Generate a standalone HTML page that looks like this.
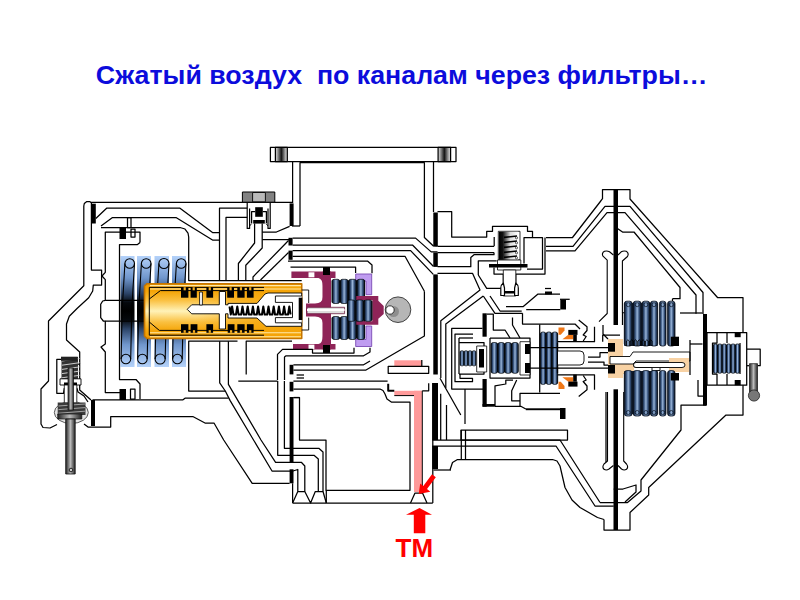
<!DOCTYPE html>
<html><head><meta charset="utf-8">
<style>
html,body{margin:0;padding:0;background:#fff;}
body{width:800px;height:600px;overflow:hidden;position:relative;font-family:"Liberation Sans",sans-serif;}
#title{position:absolute;left:1.6px;top:59.2px;width:800px;text-align:center;font-size:26.75px;font-weight:bold;color:#0c0cdc;white-space:pre;line-height:32px;transform:scaleY(0.955);transform-origin:50% 25px;}
#tm{position:absolute;left:395.5px;top:531.5px;font-size:26px;font-weight:bold;color:#ff0000;line-height:32px;}
svg{position:absolute;left:0;top:0;}
</style></head><body>
<div id="title"><span id="tt">Сжатый воздух  по каналам через фильтры…</span></div>
<div id="tm"><span id="tms">ТМ</span></div>
<svg width="800" height="600" viewBox="0 0 800 600" fill="none" stroke="#000" stroke-width="1.25" stroke-linejoin="round">
<defs>
<linearGradient id="gOr" x1="0" y1="0" x2="0" y2="1"><stop offset="0" stop-color="#f09a00"/><stop offset="0.14" stop-color="#f5a508"/><stop offset="0.3" stop-color="#fac040"/><stop offset="0.5" stop-color="#fff2b8"/><stop offset="0.7" stop-color="#fac040"/><stop offset="0.86" stop-color="#f5a508"/><stop offset="1" stop-color="#f09a00"/></linearGradient>
<linearGradient id="gOrR" x1="0" y1="0" x2="1" y2="0"><stop offset="0" stop-color="#f5a508" stop-opacity="0"/><stop offset="0.6" stop-color="#f5a508" stop-opacity="0.75"/><stop offset="1" stop-color="#f5a508" stop-opacity="0.9"/></linearGradient>
<linearGradient id="gSpU" x1="0" y1="0" x2="0" y2="1"><stop offset="0" stop-color="#b4d2fa"/><stop offset="0.4" stop-color="#7096cc"/><stop offset="0.68" stop-color="#2c4468"/><stop offset="0.85" stop-color="#05080c"/><stop offset="1" stop-color="#000"/></linearGradient>
<linearGradient id="gSpD" x1="0" y1="1" x2="0" y2="0"><stop offset="0" stop-color="#b4d2fa"/><stop offset="0.4" stop-color="#7096cc"/><stop offset="0.68" stop-color="#2c4468"/><stop offset="0.85" stop-color="#05080c"/><stop offset="1" stop-color="#000"/></linearGradient>
<linearGradient id="gBolt" x1="0" y1="0" x2="1" y2="0"><stop offset="0" stop-color="#e8e8e8"/><stop offset="0.5" stop-color="#141414"/><stop offset="1" stop-color="#f0f0f0"/></linearGradient>
<linearGradient id="gRod" x1="0" y1="0" x2="1" y2="0"><stop offset="0" stop-color="#222"/><stop offset="0.5" stop-color="#bbb"/><stop offset="1" stop-color="#222"/></linearGradient>
<linearGradient id="gCoil" x1="0" y1="0" x2="1" y2="0"><stop offset="0" stop-color="#0a1018"/><stop offset="0.25" stop-color="#34507a"/><stop offset="0.5" stop-color="#98b4d8"/><stop offset="0.75" stop-color="#34507a"/><stop offset="1" stop-color="#0a1018"/></linearGradient>
<linearGradient id="gVs" x1="0" y1="0" x2="1" y2="0"><stop offset="0" stop-color="#000"/><stop offset="0.2" stop-color="#111"/><stop offset="0.6" stop-color="#ddd"/><stop offset="1" stop-color="#fff"/></linearGradient>
</defs>

<rect x="120.5" y="256" width="14.0" height="55" fill="url(#gSpU)" stroke="none"/>
<rect x="120.5" y="311" width="14.0" height="56" fill="url(#gSpD)" stroke="none"/>
<rect x="137" y="256" width="14" height="55" fill="url(#gSpU)" stroke="none"/>
<rect x="137" y="311" width="14" height="56" fill="url(#gSpD)" stroke="none"/>
<rect x="154.5" y="256" width="14.5" height="55" fill="url(#gSpU)" stroke="none"/>
<rect x="154.5" y="311" width="14.5" height="56" fill="url(#gSpD)" stroke="none"/>
<rect x="172" y="256" width="14" height="55" fill="url(#gSpU)" stroke="none"/>
<rect x="172" y="311" width="14" height="56" fill="url(#gSpD)" stroke="none"/>
<path d="M122.10000000000001,311 L124.89999999999999,263.5 M134.5,263.5 L131.70000000000002,311" stroke="#000" stroke-width="1.1"/>
<path d="M122.10000000000001,311 L121.10000000000001,359 M130.70000000000002,359 L131.70000000000002,311" stroke="#000" stroke-width="1.1"/>
<circle cx="129.7" cy="263.5" r="4.8" stroke-width="1.1"/>
<circle cx="125.9" cy="359" r="4.8" stroke-width="1.1"/>
<path d="M138.6,311 L141.39999999999998,263.5 M151.0,263.5 L148.20000000000002,311" stroke="#000" stroke-width="1.1"/>
<path d="M138.6,311 L137.6,359 M147.20000000000002,359 L148.20000000000002,311" stroke="#000" stroke-width="1.1"/>
<circle cx="146.2" cy="263.5" r="4.8" stroke-width="1.1"/>
<circle cx="142.4" cy="359" r="4.8" stroke-width="1.1"/>
<path d="M156.1,311 L158.89999999999998,263.5 M169.0,263.5 L166.20000000000002,311" stroke="#000" stroke-width="1.1"/>
<path d="M156.1,311 L155.1,359 M165.20000000000002,359 L166.20000000000002,311" stroke="#000" stroke-width="1.1"/>
<circle cx="163.95" cy="263.5" r="5.05" stroke-width="1.1"/>
<circle cx="160.15" cy="359" r="5.05" stroke-width="1.1"/>
<path d="M173.6,311 L176.39999999999998,263.5 M186.0,263.5 L183.20000000000002,311" stroke="#000" stroke-width="1.1"/>
<path d="M173.6,311 L172.6,359 M182.20000000000002,359 L183.20000000000002,311" stroke="#000" stroke-width="1.1"/>
<circle cx="181.2" cy="263.5" r="4.8" stroke-width="1.1"/>
<circle cx="177.4" cy="359" r="4.8" stroke-width="1.1"/>
<polyline points="292,202.4 91,202.4 90,201.7 86.5,201.7 84.3,203.5 83.8,206 83.8,285.7 48.5,321 48.5,381 41,389 41,424 43,427.5 50,428 57,424.5"/>
<polyline points="91.4,202.4 91.4,270 101.6,270 101.6,285 93.3,285 92.7,291 88.7,297.7 77.3,308.3 69.3,316.3 66.5,324 66.5,340 79.7,352 79.7,364"/>
<rect x="91.8" y="203.7" width="4.0" height="19.8" fill="#000" stroke="none"/>
<polyline points="95.8,218.5 106.6,208.2 180,208.2 212.5,232.5 220,232.5"/>
<polyline points="101,226 112.5,217.5 176,217.5 212.5,240 220,240"/>
<polyline points="101,227.5 180,227.5 185,229 188,233 188.7,237 188.7,280.5 301.7,280.5"/>
<rect x="127.5" y="217.5" width="3.5" height="10.0"/>
<rect x="131" y="229" width="4" height="8"/>
<rect x="119.5" y="227.5" width="6.5" height="11.5" fill="#000" stroke="none"/>
<polyline points="140,242.5 140,232 105.3,232 105.3,272.3 102,276 105.3,279.7 105.3,300.3 102.7,301 100.7,304.3 100.7,317.7 103.3,321 105.3,321 105.3,344 101,347 105.3,352 105.3,392.5 120,392.5"/>
<polyline points="140,242.5 137.5,244.5 119.5,244.5 119.5,379.5 136,379.5 140,384 140,399"/>
<polyline points="105.3,300.3 145,300.3"/>
<polyline points="105.3,321 145,321"/>
<rect x="119.5" y="389" width="6.5" height="11" fill="#000" stroke="none"/>
<rect x="130.5" y="389" width="4.5" height="10"/>
<polyline points="92.5,399.8 183,399.8 185,398.2 228.5,398.2"/>
<rect x="91" y="400" width="4" height="26" fill="#000" stroke="none"/>
<polyline points="84,424 88,427 110.7,427 110.7,416.5 192.8,416.5 205,423 214,423 223.7,440 252.2,483.3 289.6,483.3"/>
<polyline points="237.5,341.2 188.7,341.2 188.7,391 225.3,391"/>
<polyline points="246.2,374.4 246.2,341.2 292,341.2"/>
<polygon points="147,283.7 301.7,283.7 301.7,338.5 147,338.5 144.5,336 144.5,286" fill="url(#gOr)" stroke="#c47400" stroke-width="1.6"/>
<rect x="196" y="285" width="105" height="52.5" fill="url(#gOrR)" stroke="none"/>
<polyline points="150,285.6 301,285.6" stroke="#ffe9a8" stroke-width="1.1"/>
<polyline points="150,289 301,289" stroke="#ffe9a8" stroke-width="1.1"/>
<polyline points="150,332.8 301,332.8" stroke="#ffe9a8" stroke-width="1.1"/>
<polyline points="150,336.8 301,336.8" stroke="#ffe9a8" stroke-width="1.1"/>
<polyline points="264,287.4 149.3,287.4 149.3,335.2 264,335.2" stroke-width="1"/>
<polyline points="264,290.6 160.4,290.6 149.3,299" stroke-width="1"/>
<polyline points="149.3,322 159.3,330.4 264,330.4" stroke-width="1"/>
<polygon points="187.2,309.3 191.7,304.8 219.3,304.8 219.3,291.5 225.5,291.5 225.5,304.8 228,304.8 228,303.4 257,303.4 265,294 268,293 301.7,293 301.7,326.3 266,326.3 257,318 228,318 228,313.8 225.5,313.8 225.5,329 219.3,329 219.3,313.8 191.7,313.8" fill="#fff" stroke="#000" stroke-width="0.9"/>
<rect x="199.6" y="292" width="2.8" height="13" fill="#fff" stroke-width="0.8"/>
<path d="M301.7,296 H275.4 V302.4 H292.5 V317.6 H275.4 V322.8 H301.7" fill="#fff" stroke-width="0.9"/>
<rect x="298.7" y="297.7" width="3.6" height="22.3" fill="#000" stroke="none"/>
<path d="M301.7,290 H308.7 V303 M308.7,317.6 V330 H301.7" fill="none" stroke-width="0.9"/>
<rect x="181" y="287.3" width="7.4" height="10.4" fill="#000" stroke="none"/>
<rect x="183.6" y="287.3" width="2.2" height="3.0" fill="#f8b020" stroke="none"/>
<rect x="190.6" y="287.3" width="6.2" height="10.4" fill="#000" stroke="none"/>
<rect x="192.6" y="287.3" width="2.2" height="3.0" fill="#f8b020" stroke="none"/>
<rect x="206.4" y="287.3" width="6.7" height="10.4" fill="#000" stroke="none"/>
<rect x="208.65" y="287.3" width="2.2" height="3.0" fill="#f8b020" stroke="none"/>
<rect x="227.2" y="287.3" width="6.8" height="10.4" fill="#000" stroke="none"/>
<rect x="229.5" y="287.3" width="2.2" height="3.0" fill="#f8b020" stroke="none"/>
<rect x="237.3" y="287.3" width="7.3" height="10.4" fill="#000" stroke="none"/>
<rect x="239.85" y="287.3" width="2.2" height="3.0" fill="#f8b020" stroke="none"/>
<rect x="246.9" y="287.3" width="6.7" height="10.4" fill="#000" stroke="none"/>
<rect x="249.15" y="287.3" width="2.2" height="3.0" fill="#f8b020" stroke="none"/>
<rect x="181" y="324.2" width="7.4" height="8.6" fill="#000" stroke="none"/>
<rect x="183.6" y="330.2" width="2.2" height="2.6" fill="#f8b020" stroke="none"/>
<rect x="190.6" y="324.2" width="6.8" height="8.6" fill="#000" stroke="none"/>
<rect x="192.9" y="330.2" width="2.2" height="2.6" fill="#f8b020" stroke="none"/>
<rect x="206.4" y="324.2" width="6.7" height="8.6" fill="#000" stroke="none"/>
<rect x="208.65" y="330.2" width="2.2" height="2.6" fill="#f8b020" stroke="none"/>
<rect x="227.7" y="324.2" width="6.8" height="8.6" fill="#000" stroke="none"/>
<rect x="230.0" y="330.2" width="2.2" height="2.6" fill="#f8b020" stroke="none"/>
<rect x="237.3" y="324.2" width="7.3" height="8.6" fill="#000" stroke="none"/>
<rect x="239.85" y="330.2" width="2.2" height="2.6" fill="#f8b020" stroke="none"/>
<rect x="246.9" y="324.2" width="6.7" height="8.6" fill="#000" stroke="none"/>
<rect x="249.15" y="330.2" width="2.2" height="2.6" fill="#f8b020" stroke="none"/>
<path d="M229.5,306.5 L230.8,314.5 L232.1,306.5 L233.4,314.5 L236.0,314.5 L237.29999999999998,306.5 L238.6,314.5 L241.2,314.5 L242.49999999999997,306.5 L243.79999999999998,314.5 L246.39999999999998,314.5 L247.69999999999996,306.5 L248.99999999999997,314.5 L251.59999999999997,314.5 L252.89999999999995,306.5 L254.19999999999996,314.5 L256.79999999999995,314.5 L258.09999999999997,306.5 L259.3999999999999,314.5 L261.99999999999994,314.5 L263.29999999999995,306.5 L264.5999999999999,314.5 L267.19999999999993,314.5 L268.49999999999994,306.5 L269.7999999999999,314.5 L272.3999999999999,314.5 L273.69999999999993,306.5 L274.9999999999999,314.5 L277.5999999999999,314.5 L278.8999999999999,306.5 L280.1999999999999,314.5 L282.7999999999999,314.5 L284.0999999999999,306.5 L285.39999999999986,314.5 L287.9999999999999,314.5 L289.2999999999999,306.5 L290.59999999999985,314.5" stroke="#000" stroke-width="2"/>
<ellipse cx="71.3" cy="412.5" rx="17" ry="11" fill="#e4e4e4" stroke="#333" stroke-width="0.8"/>
<polyline points="78,364 79.7,364 79.7,390 91,400"/>
<polyline points="61,359.3 56.8,359.3 56.8,393.3 63.5,393.3 64.3,388"/>
<polyline points="76.8,388 78,392 84,396 88,402"/>
<rect x="61.5" y="357" width="16.5" height="22" fill="#333" stroke="none"/>
<polyline points="62,361.0 79.5,358.5" stroke="#ddd" stroke-width="0.9"/>
<polyline points="62,365.2 79.5,362.7" stroke="#ddd" stroke-width="0.9"/>
<polyline points="62,369.4 79.5,366.9" stroke="#ddd" stroke-width="0.9"/>
<polyline points="62,373.6 79.5,371.1" stroke="#ddd" stroke-width="0.9"/>
<polyline points="62,377.8 79.5,375.3" stroke="#ddd" stroke-width="0.9"/>
<rect x="61" y="356.7" width="16.7" height="4.1" fill="#222" stroke="none"/>
<rect x="60" y="378.8" width="21" height="6.2" fill="#fff" stroke-width="0.9"/>
<rect x="64" y="382.5" width="13" height="2.5" fill="#000" stroke="none"/>
<rect x="64.3" y="385" width="12.5" height="18" fill="#fff" stroke-width="0.8"/>
<rect x="57.7" y="402.5" width="27.8" height="12.5" fill="#3a3a3a" stroke="none"/>
<polyline points="58.5,406.0 85,404.0" stroke="#bbb" stroke-width="0.8"/>
<polyline points="58.5,409.6 85,407.6" stroke="#bbb" stroke-width="0.8"/>
<polyline points="58.5,413.2 85,411.2" stroke="#bbb" stroke-width="0.8"/>
<rect x="68" y="368" width="5.5" height="42" fill="url(#gRod)" stroke="#111" stroke-width="0.7"/>
<rect x="57.7" y="414" width="24.1" height="5" fill="url(#gRod)" stroke="#111" stroke-width="0.7"/>
<rect x="65.7" y="419" width="9.5" height="55" fill="url(#gRod)" stroke="#111" stroke-width="0.8"/>
<circle cx="71" cy="470" r="1.8" fill="#ccc" stroke-width="0.8"/>
<rect x="270.4" y="147.4" width="185.6" height="14.2" fill="#fff"/>
<rect x="275.4" y="147.4" width="11.9" height="14.2" fill="url(#gBolt)"/>
<rect x="438.1" y="147.4" width="12.5" height="14.2" fill="url(#gBolt)"/>
<polyline points="292.6,161.5 292.6,203"/>
<polyline points="300,226 300,162.5 424.4,162.5 424.4,237.5 433.1,245.8 437.5,246.2"/>
<polyline points="433.5,161.5 433.5,212"/>
<polyline points="292,226 300,226"/>
<rect x="289.6" y="203.4" width="4.0" height="22.6" fill="#000" stroke="none"/>
<rect x="242.4" y="192" width="32.4" height="10.2" fill="#828282" stroke="#000" stroke-width="1"/>
<rect x="252.6" y="192.5" width="12.8" height="9.3" fill="#b9b9b9" stroke="#000" stroke-width="0.9"/>
<polyline points="247.2,202.4 247.2,228.4 249.6,228.4 249.6,208.4" stroke-width="1.2"/>
<polyline points="270.2,202.4 270.2,228.4 268,228.4 268,208.4" stroke-width="1.2"/>
<polyline points="249.6,226 251.6,223.6" stroke-width="0.9"/>
<polyline points="268,226 266,223.6" stroke-width="0.9"/>
<polyline points="255.2,211.6 251.6,211.6 251.6,223.2"/>
<polyline points="262.8,211.6 266.4,211.6 266.4,223.2"/>
<rect x="253.2" y="220" width="11.6" height="3.6" fill="#000" stroke="none"/>
<rect x="255.2" y="207.2" width="7.6" height="9.6" fill="#000" stroke="none"/>
<polyline points="254.6,223.6 254.6,243 238.4,263.5 238.4,280.5"/>
<polyline points="262.2,223.6 262.2,248 245.8,265.3 245.8,280.5"/>
<polyline points="219.5,280.5 219.5,208.2 247.2,208.2"/>
<polyline points="226,280.5 226,217.4 247.2,217.4"/>
<polyline points="262.2,232 276.4,232 289.6,226.4"/>
<polyline points="262.3,239.6 289,239.6"/>
<rect x="288.5" y="237.8" width="4.1" height="7.7" fill="#000" stroke="none"/>
<rect x="288.5" y="250.6" width="4.1" height="9.2" fill="#000" stroke="none"/>
<polyline points="288.5,240.5 253,277 253,281"/>
<polyline points="288.5,252.5 260.5,280"/>
<polyline points="292.6,238.1 415.6,238.1 431.2,251.9 437.5,251.9"/>
<polyline points="292.6,245 412.5,245 433.3,266.2"/>
<polyline points="292.6,250.6 410.6,250.6 433.3,274.4"/>
<polyline points="292.6,256.3 405,256.3 424.4,291.3"/>
<polyline points="288,261 367.5,261 372,265 372,273.3"/>
<polyline points="290.5,267 355.6,267 355.6,273"/>
<polyline points="424.4,291.3 424.4,336 366,370 293.4,370"/>
<polyline points="293.4,364.8 363.6,364.8 370,361"/>
<rect x="291.4" y="271.5" width="44.1" height="6.5" fill="#8f2458" stroke="none"/>
<rect x="293" y="344" width="42.5" height="5.5" fill="#8f2458" stroke="none"/>
<rect x="322.6" y="271.5" width="8.4" height="78.0" fill="#8f2458" stroke="none"/>
<path d="M318.5,278 Q322.6,279 322.8,286 V297 Q322.6,303.4 315,303.6 H306 V316.5 H315 Q322.6,316.7 322.8,323 V336 Q322.6,343 318.5,344 H324 V278 Z" fill="#8f2458" stroke="none"/>
<rect x="308.5" y="272.3" width="5.9" height="5.0" fill="#fff" stroke="none"/>
<rect x="308.5" y="344.6" width="5.9" height="4.4" fill="#fff" stroke="none"/>
<rect x="323" y="267" width="7" height="8" fill="#000" stroke="none"/>
<rect x="323" y="345" width="7" height="8" fill="#000" stroke="none"/>
<rect x="307" y="307.3" width="37.6" height="6.4" fill="#ddd" stroke="#6a1a40" stroke-width="0.8"/>
<rect x="307" y="309" width="37.6" height="2" fill="#fff" stroke="none"/>
<path d="M355.7,274 H371.7 V294.7 H366 V281 H355.7 Z" fill="#bf9cf0" stroke="#7a4cb4" stroke-width="0.9"/>
<path d="M355.7,346.5 H371.7 V326 H366 V339.5 H355.7 Z" fill="#bf9cf0" stroke="#7a4cb4" stroke-width="0.9"/>
<rect x="331.7" y="280.3" width="33.3" height="22.2" fill="#0c1118" stroke="none"/>
<rect x="332.1" y="279.3" width="7.52" height="24.2" fill="url(#gCoil)" stroke="#05080c" stroke-width="0.7" rx="2"/>
<rect x="340.42" y="279.3" width="7.53" height="24.2" fill="url(#gCoil)" stroke="#05080c" stroke-width="0.7" rx="2"/>
<rect x="348.75" y="279.3" width="7.53" height="24.2" fill="url(#gCoil)" stroke="#05080c" stroke-width="0.7" rx="2"/>
<rect x="357.07" y="279.3" width="7.53" height="24.2" fill="url(#gCoil)" stroke="#05080c" stroke-width="0.7" rx="2"/>
<rect x="331.7" y="317.5" width="33.3" height="21.0" fill="#0c1118" stroke="none"/>
<rect x="332.1" y="316.5" width="7.52" height="23.0" fill="url(#gCoil)" stroke="#05080c" stroke-width="0.7" rx="2"/>
<rect x="340.42" y="316.5" width="7.53" height="23.0" fill="url(#gCoil)" stroke="#05080c" stroke-width="0.7" rx="2"/>
<rect x="348.75" y="316.5" width="7.53" height="23.0" fill="url(#gCoil)" stroke="#05080c" stroke-width="0.7" rx="2"/>
<rect x="357.07" y="316.5" width="7.53" height="23.0" fill="url(#gCoil)" stroke="#05080c" stroke-width="0.7" rx="2"/>
<path d="M356.3,296 H378.3 V300.7 L383.7,306 V314 L378.3,318.7 V324.7 H356.3 V321.3 H372.3 V300 H356.3 Z" fill="#8f2458" stroke="none"/>
<rect x="347" y="301" width="25.3" height="19.3" fill="#0c1118" stroke="none"/>
<rect x="347.4" y="300" width="7.63" height="21.3" fill="url(#gCoil)" stroke="#05080c" stroke-width="0.7" rx="2"/>
<rect x="355.83" y="300" width="7.64" height="21.3" fill="url(#gCoil)" stroke="#05080c" stroke-width="0.7" rx="2"/>
<rect x="364.27" y="300" width="7.63" height="21.3" fill="url(#gCoil)" stroke="#05080c" stroke-width="0.7" rx="2"/>
<circle cx="398" cy="309.7" r="12.8" fill="#b6b6b6" stroke="#333" stroke-width="0.9"/>
<circle cx="393.5" cy="311.5" r="5.5" fill="#8e8e8e" stroke="none"/>
<circle cx="390" cy="310" r="4.2" fill="#fff" stroke="#222" stroke-width="0.9"/>
<polyline points="277.5,380 277.5,354.4 282.5,349.4 312.5,349.4 312.5,353 354,353 354,347.7"/>
<polyline points="284.5,380 284.5,357 286,355.8 363.6,355.8 370,352 370,347.7"/>
<rect x="289.6" y="364.8" width="3.8" height="9.6" fill="#000" stroke="none"/>
<rect x="289.6" y="381.8" width="3.8" height="9.6" fill="#000" stroke="none"/>
<polyline points="238.3,381 277.5,381"/>
<polyline points="293.4,381 387.6,381"/>
<polyline points="296.6,375 304,375"/>
<polyline points="296.6,378 304,378"/>
<rect x="394.3" y="360.3" width="27.2" height="6.0" fill="#ff9a9a" stroke="none"/>
<polyline points="421.8,360 421.8,366.3"/>
<rect x="388.2" y="366.3" width="40.5" height="7.0" fill="#fff"/>
<rect x="394.3" y="390.8" width="27.7" height="4.7" fill="#ff9a9a" stroke="none"/>
<rect x="414" y="390.8" width="8" height="101.2" fill="#ff9a9a" stroke="none"/>
<polyline points="422.3,390.8 422.3,492.5" stroke-width="1"/>
<path d="M388.2,383.8 V390.8 H394.3" stroke-width="2"/>
<polyline points="394.3,395.6 414,395.6" stroke-width="1"/>
<polyline points="422.3,390.8 428.7,390.8 428.7,383.3"/>
<polyline points="293.4,389 380,389 383,390.5 385,394 387,399 391.3,402 410,402 410,490.3 326,490.3 326,440 299.5,440 299.5,397.5 293.4,397.5"/>
<polyline points="292.5,503.2 432.8,503.2"/>
<polyline points="432.8,383 432.8,503"/>
<polyline points="410.5,503 415,493 422.5,493 427,503"/>
<polygon points="419.5,508 432,514.7 425.3,514.7 425.3,533.3 413.8,533.3 413.8,514.7 406,514.7" fill="#f00" stroke="none"/>
<polygon points="418.7,494 420.2,483.5 423.3,486 432,474.2 435.8,477.2 427,489 430.3,491.7" fill="#f00" stroke="none"/>
<polyline points="277.7,381 277.7,455.3 314,455.3 318.3,459 318.3,491.5"/>
<polyline points="284.4,381 284.4,448.3 318.8,448.3 323,452 323,491.5"/>
<rect x="289.6" y="397" width="3.9" height="65.3" fill="#000" stroke="none"/>
<rect x="289.6" y="469.3" width="3.9" height="14.0" fill="#000" stroke="none"/>
<polyline points="293.5,397.5 299.5,397.5"/>
<polyline points="228.4,341.2 228.4,384.4 261,440 275.6,462.3 301.3,462.3 304.8,466 304.8,491.5"/>
<polyline points="219.7,341.2 219.7,382.8 225.3,391 230,400.4 272,471 293,471 297.8,469.5 297.8,491.5"/>
<polyline points="292.6,483.3 292.6,503"/>
<polyline points="292.6,503 297.8,491.5 304.8,491.5 310.6,503 315.3,491.5 323,491.5 326.3,503"/>
<polyline points="326.3,490.3 326.3,503"/>
<rect x="433.3" y="212.5" width="4.5" height="33.7" fill="#000" stroke="none"/>
<rect x="433.3" y="252.5" width="4.5" height="14.4" fill="#000" stroke="none"/>
<rect x="433.3" y="274.4" width="4.5" height="100.1" fill="#000" stroke="none"/>
<rect x="432.3" y="383" width="5.7" height="57" fill="#000" stroke="none"/>
<rect x="432.3" y="446" width="5.7" height="23" fill="#000" stroke="none"/>
<polyline points="437.5,211.7 451.7,211.7 451.7,237 486.7,237 486.7,231.3 492.5,231.3 492.5,226.3 527.5,226.3 527.5,231.3 532.5,231.3 532.5,237.5 542.5,237.5 542.5,269 527,269"/>
<polyline points="524,263.5 524,237.5 532.5,237.5"/>
<polyline points="437.5,246.3 494,246.3"/>
<polyline points="437.5,252.5 494,252.5"/>
<polyline points="494.2,237 494.2,246.3"/>
<polyline points="494,252.5 494,254.7 474,254.7 470.8,257.5 470.8,266.7 437.5,266.7"/>
<polyline points="437.5,273.3 472.5,273.3 480,290 440.8,320.8 440.8,378"/>
<polyline points="478.3,275 478.3,260.8 496.7,260.8"/>
<polyline points="478.3,275 486.7,288.3 503,288.3"/>
<polyline points="483.3,296 445.8,324 445.8,388"/>
<rect x="498.3" y="231.3" width="21.7" height="28.7" fill="#fff" stroke-width="0.8"/>
<rect x="499" y="231.8" width="19" height="28" fill="url(#gVs)" stroke="none"/>
<polyline points="504,237.4 517,236" stroke="#000" stroke-width="1.6"/>
<circle cx="516.5" cy="237.8" r="1.1" fill="#fff" stroke="#000" stroke-width="0.6"/>
<polyline points="504,242.4 517,241" stroke="#000" stroke-width="1.6"/>
<circle cx="516.5" cy="242.8" r="1.1" fill="#fff" stroke="#000" stroke-width="0.6"/>
<polyline points="504,247.4 517,246" stroke="#000" stroke-width="1.6"/>
<circle cx="516.5" cy="247.8" r="1.1" fill="#fff" stroke="#000" stroke-width="0.6"/>
<polyline points="504,252.4 517,251" stroke="#000" stroke-width="1.6"/>
<circle cx="516.5" cy="252.8" r="1.1" fill="#fff" stroke="#000" stroke-width="0.6"/>
<polyline points="504,257.4 517,256" stroke="#000" stroke-width="1.6"/>
<circle cx="516.5" cy="257.8" r="1.1" fill="#fff" stroke="#000" stroke-width="0.6"/>
<rect x="497.5" y="260" width="23.3" height="10" fill="#fff" stroke-width="0.8"/>
<rect x="489" y="264" width="38.5" height="3.5" fill="#000" stroke="none"/>
<polyline points="494,267.5 494,274 503.3,274 503.3,283.3"/>
<polyline points="515.8,283.3 515.8,274 545,274 545,237.5"/>
<rect x="503.3" y="270" width="12.5" height="26" fill="#fff" stroke-width="0.8"/>
<path d="M503.3,283 Q500.5,285 500.8,289 V295.5 H504.5 V288 Z M515.8,283 Q518.6,285 518.3,289 V295.5 H514.6 V288 Z" fill="#fff" stroke-width="1.2"/>
<rect x="504.5" y="291" width="10.1" height="2.5" fill="#000" stroke="none"/>
<polyline points="546,237.5 572.5,237.5 600,202 602.5,198.7 602.5,189.5 630,189.5 630,199 717.5,297.5 743,297.5 743,332.7"/>
<polyline points="746.7,349.2 760.2,349.2 760.2,365.7 757.5,365.7"/>
<polyline points="749,365.7 746.7,365.7"/>
<polyline points="546,246.3 573,246.3 605,206.3 630,206.3 703,292.5 703,314"/>
<polyline points="546,250.8 575,250.8 607,212.7 625,212.7 696,295 696,313.7"/>
<polyline points="616,227.5 622.5,232 634,232 680,287.5 680,298.7 672.5,298.7"/>
<rect x="613.5" y="190" width="4.5" height="135" fill="#000" stroke="none"/>
<rect x="613.5" y="389.3" width="4.5" height="140.7" fill="#000" stroke="none"/>
<path d="M613.4,255 L609.5,251.8 Q607,250.4 604.5,251.3 Q601.3,253 603,256.2 L607.2,260.2 V313.5 L599,321.7" stroke-width="1.1"/>
<path d="M618,255 L621.2,251.8 Q623.7,250.4 626.2,251.3 Q629.3,253 627.5,256.5 L622.4,261 V312.7 H624.5" stroke-width="1.1"/>
<polyline points="622.5,312.7 622.5,325"/>
<rect x="703" y="314" width="4" height="91.6" fill="#000" stroke="none"/>
<rect x="707" y="332.7" width="39.7" height="52.5" fill="#fff"/>
<polyline points="717,332.5 717,343 712.5,343 712.5,374 717,374 717,385"/>
<polyline points="727,332.5 727,343"/>
<polyline points="727,374 727,385"/>
<polyline points="740,343 740,374"/>
<rect x="734.7" y="332.7" width="6.0" height="4.5" fill="#000" stroke="none"/>
<rect x="734.7" y="380" width="6.0" height="5.2" fill="#000" stroke="none"/>
<rect x="713.3" y="345" width="26.4" height="27.2" fill="#0c1118" stroke="none"/>
<rect x="713.3" y="344" width="4.3" height="29.2" fill="url(#gCoil)" stroke="#05080c" stroke-width="0.7" rx="1.6"/>
<rect x="717.7" y="344" width="4.3" height="29.2" fill="url(#gCoil)" stroke="#05080c" stroke-width="0.7" rx="1.6"/>
<rect x="722.1" y="344" width="4.3" height="29.2" fill="url(#gCoil)" stroke="#05080c" stroke-width="0.7" rx="1.6"/>
<rect x="726.5" y="344" width="4.3" height="29.2" fill="url(#gCoil)" stroke="#05080c" stroke-width="0.7" rx="1.6"/>
<rect x="730.9" y="344" width="4.3" height="29.2" fill="url(#gCoil)" stroke="#05080c" stroke-width="0.7" rx="1.6"/>
<rect x="735.3" y="344" width="4.4" height="29.2" fill="url(#gCoil)" stroke="#05080c" stroke-width="0.7" rx="1.6"/>
<rect x="749.5" y="363.7" width="8.0" height="28.3" fill="url(#gRod)" stroke="#222" stroke-width="0.8"/>
<circle cx="754" cy="395.5" r="5.6" fill="#777" stroke="#222" stroke-width="0.8"/>
<polyline points="743,385.2 743,415 726,415 648.7,487.5 648.7,495 630,512.5 630,530 604,530 604,519.5"/>
<polyline points="706,405 681,405 681,430 641,480 641,491 627.5,502.5 600,502.5"/>
<polyline points="698,380 698,396 706,396"/>
<polyline points="450,470 452.5,462.5 457.5,459.5 552.5,459.5 557,461 560,466 565,487.5 572,500 580,507.5 597.5,517.5 604,519.5"/>
<polyline points="433.5,470 451,470"/>
<polyline points="432.5,440 560,440 600,502.5"/>
<polyline points="432.5,446 556,446 595,506 613.7,506"/>
<rect x="461" y="430" width="106.5" height="10"/>
<polyline points="465.5,430 465.5,459.5"/>
<polyline points="461.3,430 461.3,459.5"/>
<polyline points="606,392 606,462"/>
<path d="M607.5,392 V461 L604,464 Q601.8,467 604,469.3 Q606.5,470.8 609,469 L613.4,465.5" stroke-width="1.1"/>
<path d="M623.7,392 V461 L626.5,464 Q628.8,467 626.5,469.3 Q624,470.8 621.5,469 L618,465.5" stroke-width="1.1"/>
<polyline points="613.7,489 623,489 636,485 636,492 625,502"/>
<polyline points="483.3,389 451.7,389 451.7,328.3 482.5,328.3"/>
<polyline points="460,374 460,378.3 472.5,378.3 472.5,381.7 455,381.7 455,334 473,334"/>
<rect x="482.5" y="313.3" width="4.2" height="23.4" fill="#000" stroke="none"/>
<polyline points="486.7,314 493.3,314 493.3,330 505,330 510,338"/>
<polyline points="459,338 459,374"/>
<polyline points="459,338 473,338"/>
<polyline points="459,342.5 484,342.5 484,349"/>
<polyline points="459,374 484,374 484,372"/>
<polyline points="465,389 465,424"/>
<polyline points="440,378.3 460.8,415"/>
<polyline points="446.5,405 446.5,440"/>
<polyline points="440.7,393.7 440.7,440"/>
<rect x="460" y="351.8" width="16" height="13.0" fill="#0c1118" stroke="none"/>
<rect x="460" y="350.8" width="4" height="15.0" fill="url(#gCoil)" stroke="#05080c" stroke-width="0.7" rx="1.5"/>
<rect x="464" y="350.8" width="4" height="15.0" fill="url(#gCoil)" stroke="#05080c" stroke-width="0.7" rx="1.5"/>
<rect x="468" y="350.8" width="4" height="15.0" fill="url(#gCoil)" stroke="#05080c" stroke-width="0.7" rx="1.5"/>
<rect x="472" y="350.8" width="4" height="15.0" fill="url(#gCoil)" stroke="#05080c" stroke-width="0.7" rx="1.5"/>
<rect x="476.7" y="346" width="10.0" height="26" fill="#fff" stroke-width="0.8"/>
<rect x="479" y="349" width="5" height="18.5" fill="#000" stroke="none"/>
<rect x="491" y="343.5" width="27.3" height="28.8" fill="#0c1118" stroke="none"/>
<rect x="491" y="342.5" width="6.6" height="30.8" fill="url(#gCoil)" stroke="#05080c" stroke-width="0.7" rx="2.2"/>
<rect x="497.9" y="342.5" width="6.6" height="30.8" fill="url(#gCoil)" stroke="#05080c" stroke-width="0.7" rx="2.2"/>
<rect x="504.8" y="342.5" width="6.6" height="30.8" fill="url(#gCoil)" stroke="#05080c" stroke-width="0.7" rx="2.2"/>
<rect x="511.7" y="342.5" width="6.6" height="30.8" fill="url(#gCoil)" stroke="#05080c" stroke-width="0.7" rx="2.2"/>
<polyline points="490,338 530,338 530,378 490,378 490,338"/>
<rect x="520" y="341.7" width="10" height="33.3" fill="#fff" stroke-width="0.8"/>
<rect x="525" y="344" width="5" height="10" fill="#000" stroke="none"/>
<rect x="525" y="363" width="5" height="10" fill="#000" stroke="none"/>
<rect x="482.5" y="379" width="4.2" height="27.7" fill="#000" stroke="none"/>
<rect x="482.5" y="404" width="12.5" height="2.7" fill="#000" stroke="none"/>
<polyline points="495,406.3 520.8,406.3 525.8,409"/>
<rect x="525.8" y="408.3" width="39.2" height="1.9" fill="#000" stroke="none"/>
<rect x="560" y="408" width="5.5" height="11" fill="#000" stroke="none"/>
<polyline points="495,406 495,385.8 505.8,384 505.8,380 513,380"/>
<polyline points="516.7,380 511.7,390.8 511.7,400.8 520,400.8"/>
<polyline points="520,406 520,393.3 560,393.3"/>
<polyline points="483.3,296 495,313.3 522.5,313.3"/>
<polyline points="490,296 500,311 521.7,311"/>
<polyline points="506,306.7 523,306.7 538,294 560,294"/>
<rect x="545" y="291.5" width="7" height="3.0" fill="#000" stroke="none"/>
<polyline points="545,288.5 551,288.5"/>
<polyline points="526.2,309.5 560.3,309.5"/>
<rect x="560.3" y="299.7" width="5.7" height="9.8" fill="#000" stroke="none"/>
<polyline points="560,299.3 569.7,299.3"/>
<polyline points="522.5,313.3 522.5,324 575,324 580,329"/>
<polyline points="512.5,317.5 512.5,325 520,338"/>
<polyline points="539.7,392.5 539.7,324.5"/>
<rect x="540.4" y="333" width="17.3" height="50.4" fill="#0c1118" stroke="none"/>
<rect x="540.4" y="332" width="5.4" height="52.4" fill="url(#gCoil)" stroke="#05080c" stroke-width="0.7" rx="2.2"/>
<rect x="546.1" y="332" width="5.6" height="52.4" fill="url(#gCoil)" stroke="#05080c" stroke-width="0.7" rx="2.2"/>
<rect x="552" y="332" width="5.7" height="52.4" fill="url(#gCoil)" stroke="#05080c" stroke-width="0.7" rx="2.2"/>
<polygon points="558.5,327.5 564.5,327.5 564.5,330.5 560.8,334.7 558.5,334.7" fill="#f07818" stroke="none"/>
<polygon points="568.3,334.8 573.2,334.8 573.2,339.2 562.4,339.2" fill="#f07818" stroke="none"/>
<rect x="568.3" y="329.9" width="9.2" height="5.0" fill="#000" stroke="none"/>
<rect x="573.2" y="334.8" width="3.6" height="7.1" fill="#000" stroke="none"/>
<polygon points="558.5,389 564.5,389 564.5,386 560.8,381.8 558.5,381.8" fill="#f07818" stroke="none"/>
<polygon points="568.3,381.7 573.2,381.7 573.2,377.3 562.4,377.3" fill="#f07818" stroke="none"/>
<rect x="568.3" y="381.6" width="9.2" height="5.0" fill="#000" stroke="none"/>
<rect x="573.2" y="374.6" width="3.6" height="7.1" fill="#000" stroke="none"/>
<polyline points="578.7,320 587,326.7 587,330.5 583.2,335 586.2,336.5 583.2,341"/>
<polyline points="578.7,396.5 587,389.8 587,386 583.2,381.5 586.2,380 583.2,375.5"/>
<polyline points="557.7,341.7 594.5,341.7 594.5,326.7"/>
<polyline points="557.7,374.8 594.5,374.8 594.5,389.8"/>
<polyline points="602.7,341.7 602.7,335 620,335"/>
<polyline points="530,347.5 608,347.5"/>
<polyline points="530,368 608,368"/>
<polyline points="557.5,343 557.5,373"/>
<path d="M558,351 H580 Q584,351 584,355 V361 Q584,365 580,365 H558" fill="#fff" stroke-width="0.9"/>
<polyline points="588,357 600,357 600,352.5 610,352.5"/>
<polyline points="588,362 604,362 604,365 610,365"/>
<rect x="608" y="339" width="15" height="39" fill="#f8d2a4" stroke="none"/>
<rect x="608" y="360" width="26" height="14" fill="#f8d2a4" stroke="none"/>
<rect x="608" y="343" width="7" height="8.7" fill="#000" stroke="none"/>
<rect x="608" y="365" width="7" height="8.5" fill="#000" stroke="none"/>
<polyline points="608,339 603,334 603,325"/>
<polygon points="610,356.5 630,356.5 633,352 690,352 690,361 636,361 633,364 610,364" fill="#fff" stroke="#000" stroke-width="0.9"/>
<path d="M636,362.5 H682 Q685,362.5 685,365 Q685,367.5 682,367.5 H660 V370.5 H652 V367.5 H636 Q633.5,367.5 633.5,365 Q633.5,362.5 636,362.5 Z" fill="#fff" stroke-width="0.9"/>
<rect x="669" y="358" width="20" height="14" fill="#f8d2a4" stroke="none"/>
<path d="M636,362.5 H682 Q685,362.5 685,365 Q685,367.5 682,367.5 H636 Q633.5,367.5 633.5,365 Q633.5,362.5 636,362.5 Z" fill="#fff" stroke-width="0.9"/>
<rect x="624.3" y="303" width="33.3" height="43" fill="#16243a" stroke="none"/>
<rect x="624.3" y="371" width="33.3" height="43" fill="#16243a" stroke="none"/>
<rect x="624.3" y="301.2" width="7.9" height="44.8" fill="url(#gCoil)" stroke="#0a121e" stroke-width="0.8" rx="2.5"/>
<circle cx="628.25" cy="304.7" r="2" fill="none" stroke="#0a121e" stroke-width="0.7"/>
<rect x="633.2" y="301.2" width="8.0" height="44.8" fill="url(#gCoil)" stroke="#0a121e" stroke-width="0.8" rx="2.5"/>
<circle cx="637.2" cy="304.7" r="2" fill="none" stroke="#0a121e" stroke-width="0.7"/>
<rect x="642" y="301.2" width="7.8" height="44.8" fill="url(#gCoil)" stroke="#0a121e" stroke-width="0.8" rx="2.5"/>
<circle cx="645.9" cy="304.7" r="2" fill="none" stroke="#0a121e" stroke-width="0.7"/>
<rect x="650.4" y="301.2" width="7.2" height="44.8" fill="url(#gCoil)" stroke="#0a121e" stroke-width="0.8" rx="2.5"/>
<circle cx="654.0" cy="304.7" r="2" fill="none" stroke="#0a121e" stroke-width="0.7"/>
<rect x="659.4" y="301.2" width="6.6" height="44.8" fill="url(#gCoil)" stroke="#0a121e" stroke-width="0.8" rx="2.5"/>
<circle cx="662.7" cy="304.7" r="2" fill="none" stroke="#0a121e" stroke-width="0.7"/>
<rect x="667.6" y="301.2" width="7.4" height="44.8" fill="url(#gCoil)" stroke="#0a121e" stroke-width="0.8" rx="2.5"/>
<circle cx="671.3" cy="304.7" r="2" fill="none" stroke="#0a121e" stroke-width="0.7"/>
<rect x="624.3" y="370.6" width="7.9" height="45.4" fill="url(#gCoil)" stroke="#0a121e" stroke-width="0.8" rx="2.5"/>
<circle cx="628.25" cy="412.5" r="2" fill="none" stroke="#0a121e" stroke-width="0.7"/>
<rect x="633.2" y="370.6" width="8.0" height="45.4" fill="url(#gCoil)" stroke="#0a121e" stroke-width="0.8" rx="2.5"/>
<circle cx="637.2" cy="412.5" r="2" fill="none" stroke="#0a121e" stroke-width="0.7"/>
<rect x="642" y="370.6" width="7.8" height="45.4" fill="url(#gCoil)" stroke="#0a121e" stroke-width="0.8" rx="2.5"/>
<circle cx="645.9" cy="412.5" r="2" fill="none" stroke="#0a121e" stroke-width="0.7"/>
<rect x="650.4" y="370.6" width="7.2" height="45.4" fill="url(#gCoil)" stroke="#0a121e" stroke-width="0.8" rx="2.5"/>
<circle cx="654.0" cy="412.5" r="2" fill="none" stroke="#0a121e" stroke-width="0.7"/>
<rect x="659.4" y="370.6" width="6.6" height="45.4" fill="url(#gCoil)" stroke="#0a121e" stroke-width="0.8" rx="2.5"/>
<circle cx="662.7" cy="412.5" r="2" fill="none" stroke="#0a121e" stroke-width="0.7"/>
<rect x="667.6" y="370.6" width="7.4" height="45.4" fill="url(#gCoil)" stroke="#0a121e" stroke-width="0.8" rx="2.5"/>
<circle cx="671.3" cy="412.5" r="2" fill="none" stroke="#0a121e" stroke-width="0.7"/>
<path d="M626.5,346 V341 Q627.9,338.5 629.3,341 V346" stroke="#000" stroke-width="0.8"/>
<path d="M630.3,346 V341 Q631.6999999999999,338.5 633.0999999999999,341 V346" stroke="#000" stroke-width="0.8"/>
<path d="M634.1,346 V341 Q635.5,338.5 636.9,341 V346" stroke="#000" stroke-width="0.8"/>
<path d="M637.9,346 V341 Q639.3,338.5 640.6999999999999,341 V346" stroke="#000" stroke-width="0.8"/>
<path d="M641.7,346 V341 Q643.1,338.5 644.5,341 V346" stroke="#000" stroke-width="0.8"/>
<path d="M645.5,346 V341 Q646.9,338.5 648.3,341 V346" stroke="#000" stroke-width="0.8"/>
<path d="M649.3,346 V341 Q650.6999999999999,338.5 652.0999999999999,341 V346" stroke="#000" stroke-width="0.8"/>
<rect x="670.8" y="336.7" width="8.2" height="9.3" fill="#000" stroke="none"/>
<rect x="670.8" y="373" width="8.2" height="7.5" fill="#000" stroke="none"/>
<polyline points="672.5,298.7 672.5,301"/>
<polyline points="680,313 702.5,313"/>
<polyline points="690,340 690,375"/>
<polyline points="690,344 702.5,344"/>
</svg>
</body></html>
